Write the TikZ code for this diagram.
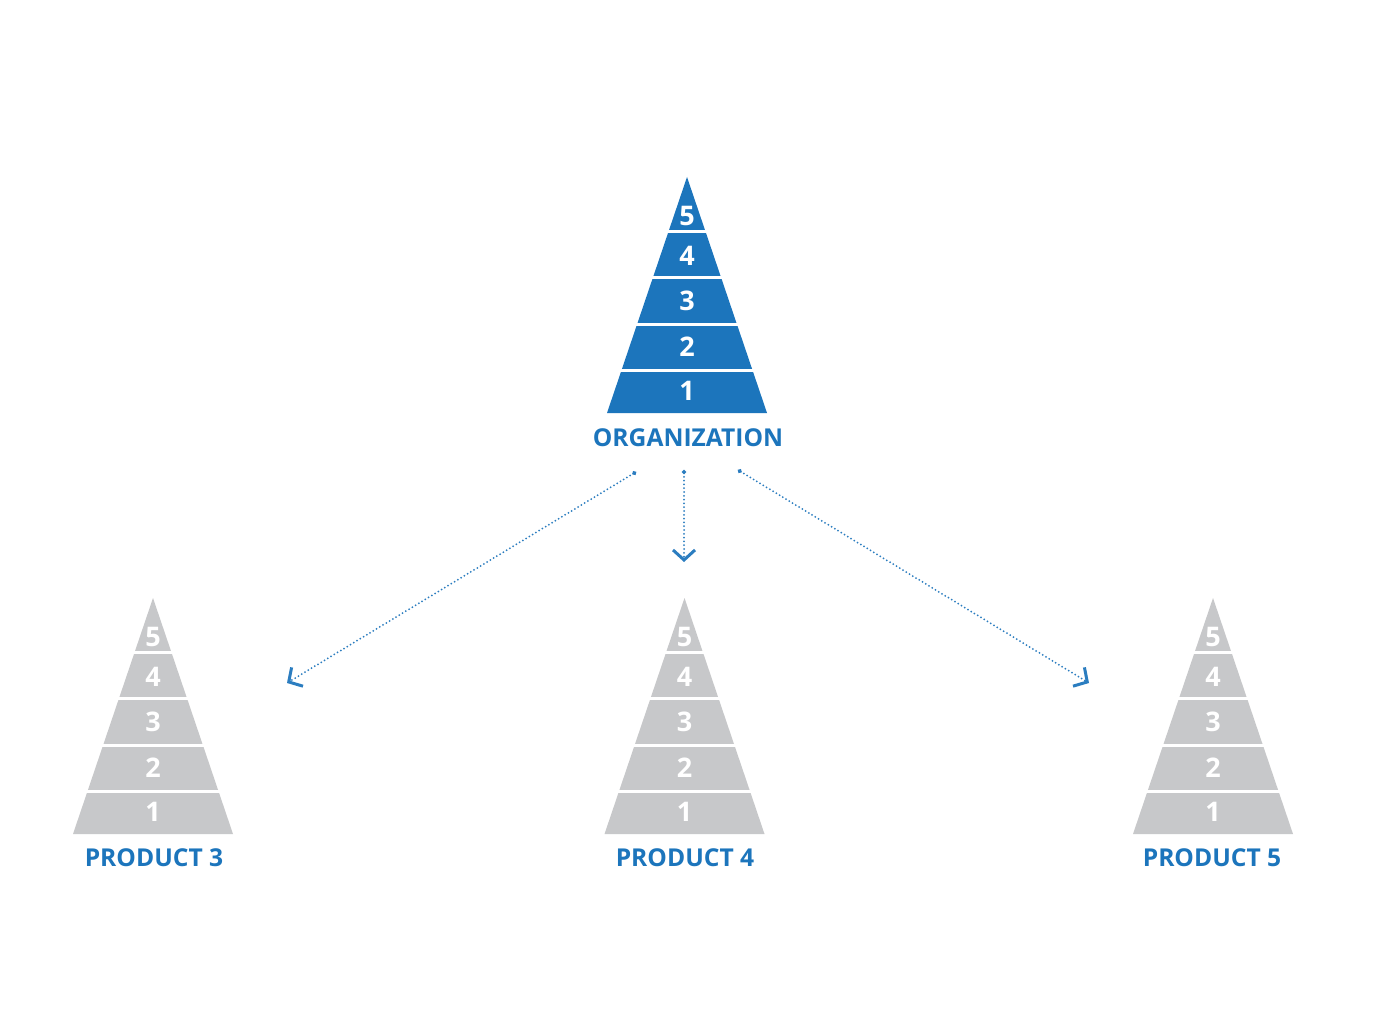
\documentclass[tikz,border=0pt]{standalone}
\usepackage{fontspec}
\setmainfont{Open Sans}
\usetikzlibrary{arrows.meta}
\definecolor{orgblue}{HTML}{1C75BC}
\definecolor{prodgrey}{HTML}{C7C8CA}
\definecolor{arrowblue}{HTML}{2B7DC0}
\tikzset{
  digit/.style={text=white,font=\fontsize{27}{27}\selectfont\bfseries,inner sep=0pt},
  pyrlabel/.style={text=orgblue,font=\fontsize{24.6}{24.6}\selectfont\bfseries,inner sep=0pt},
  sepline/.style={draw=white,line width=3pt},
  conn/.style={draw=arrowblue,line width=2pt,dash pattern=on 0pt off 3.8pt,line cap=round,
    {Circle[length=4pt]}-{Straight Barb[length=10pt,width=22pt,line width=3pt]}}
}
\newcommand\drawpyramid[4]{% name, cx, top y, colour
  \fill[#4] (#2,#3) -- (#2+80,#3+236) -- (#2-80,#3+236) -- cycle;
  \foreach \f in {0.233,0.427,0.625,0.818}{
    \draw[sepline] (#2-80*\f-3,#3+236*\f) -- (#2+80*\f+3,#3+236*\f);
  }
  \node[digit] (#1-5) at (#2,#3+39) {5};
  \node[digit] (#1-4) at (#2,#3+79) {4};
  \node[digit] (#1-3) at (#2,#3+124) {3};
  \node[digit] (#1-2) at (#2,#3+170) {2};
  \node[digit] (#1-1) at (#2,#3+214) {1};
}
\begin{document}
\begin{tikzpicture}[x=1pt,y=-1pt]
\useasboundingbox[fill=white] (0,0) rectangle (1380,1024);
\drawpyramid{org}{687}{177}{orgblue}
\drawpyramid{pa}{153}{598}{prodgrey}
\drawpyramid{pb}{684.5}{598}{prodgrey}
\drawpyramid{pc}{1213}{598}{prodgrey}
\node[pyrlabel] (orglabel) at (688,438) {ORGANIZATION};
\node[pyrlabel] (lab3) at (154,858) {PRODUCT 3};
\node[pyrlabel] (lab4) at (685,858) {PRODUCT 4};
\node[pyrlabel] (lab5) at (1212,858) {PRODUCT 5};
\coordinate (s1) at (636,472);
\coordinate (s2) at (684,470);
\coordinate (s3) at (738,470);
\coordinate (e1) at (287,683);
\coordinate (e2) at (684,562);
\coordinate (e3) at (1089,683);
\draw[conn] (s1) -- (e1);
\draw[conn] (s2) -- (e2);
\draw[conn] (s3) -- (e3);
\end{tikzpicture}
\end{document}
